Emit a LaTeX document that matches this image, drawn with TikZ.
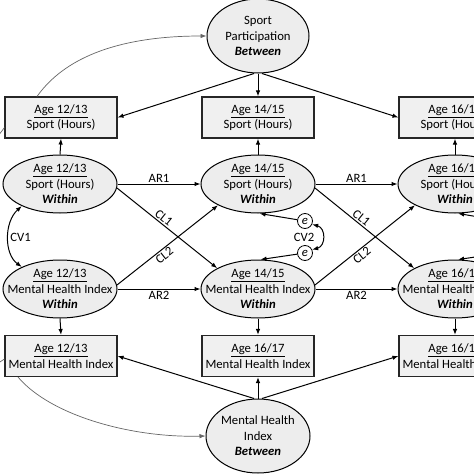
\documentclass[tikz,border=0pt]{standalone}
\usepackage{fontspec}
\setmainfont{Carlito}
\usetikzlibrary{shapes.geometric,arrows.meta,calc}
\begin{document}
\begin{tikzpicture}[x=1pt,y=-1pt,
  font=\fontsize{12.7}{15.5}\selectfont,
  obsbox/.style={draw=black!85,line width=1.1pt,fill=black!6,minimum width=112pt,minimum height=41pt,inner sep=0pt,align=center},
  latent/.style={ellipse,draw=black,line width=1pt,fill=black!7,minimum width=114pt,minimum height=58pt,inner sep=0pt},
  bigl/.style={ellipse,draw=black,line width=1pt,fill=black!7,minimum width=102pt,minimum height=74pt,inner sep=0pt},
  txt/.style={align=center,inner sep=0pt},
  arr/.style={-{Latex[length=6pt,width=4.5pt]},line width=1pt},
  dblarr/.style={{Latex[length=6pt,width=4.5pt]}-{Latex[length=6pt,width=4.5pt]},line width=1pt},
  greycurve/.style={-{Latex[length=6pt,width=4.5pt]},draw=black!60,line width=0.7pt},
  greyline/.style={draw=black!60,line width=0.7pt},
  errc/.style={circle,draw,line width=0.8pt,fill=white,minimum size=15pt,inner sep=0pt},
  lab/.style={inner sep=1.5pt}]
\useasboundingbox (0,0) rectangle (474,474);
\fill[white] (0,0) rectangle (474,474);
\clip (0,0) rectangle (474,474);

% between factors
\node[bigl,label={[txt]center:{Sport\\Participation\\\textbf{\textit{Between}}}}] (sb) at (258,36) {};
\node[bigl,minimum width=104pt,label={[txt]center:{Mental Health\\Index\\\textbf{\textit{Between}}}}] (mb) at (258,436) {};

% observed sport
\node[obsbox] (b1s) at (61,117.5) {\underline{Age 12/13}\\Sport (Hours)};
\node[obsbox] (b2s) at (258,117.5) {\underline{Age 14/15}\\Sport (Hours)};
\node[obsbox] (b3s) at (455,117.5) {\underline{Age 16/17}\\Sport (Hours)};

% within sport
\node[latent,label={[txt]center:{\underline{Age 12/13}\\Sport (Hours)\\\textbf{\textit{Within}}}}] (sw1) at (60,184) {};
\node[latent,label={[txt]center:{\underline{Age 14/15}\\Sport (Hours)\\\textbf{\textit{Within}}}}] (sw2) at (258,184) {};
\node[latent,label={[txt]center:{\underline{Age 16/17}\\Sport (Hours)\\\textbf{\textit{Within}}}}] (sw3) at (455,184) {};

% within mental
\node[latent,label={[txt]center:{\underline{Age 12/13}\\Mental Health Index\\\textbf{\textit{Within}}}}] (mw1) at (60,289) {};
\node[latent,label={[txt]center:{\underline{Age 14/15}\\Mental Health Index\\\textbf{\textit{Within}}}}] (mw2) at (258,289) {};
\node[latent,label={[txt]center:{\underline{Age 16/17}\\Mental Health Index\\\textbf{\textit{Within}}}}] (mw3) at (455,289) {};

% observed mental
\node[obsbox] (b1m) at (61,356) {\underline{Age 12/13}\\Mental Health Index};
\node[obsbox] (b2m) at (258,356) {\underline{Age 16/17}\\Mental Health Index};
\node[obsbox] (b3m) at (455,356) {\underline{Age 16/17}\\Mental Health Index};

% error terms
\node[errc] (e1) at (305,221) {\textit{e}};
\node[errc] (e2) at (305,253) {\textit{e}};
\node[errc] (e3) at (502,221) {\textit{e}};
\node[errc] (e4) at (502,253) {\textit{e}};

% between -> observed
\draw[arr] ([xshift=-4pt]sb.south) -- (b1s.east);
\draw[arr] (sb.south) -- (b2s.north);
\draw[arr] ([xshift=4pt]sb.south) -- (b3s.west);
\draw[arr] ([xshift=-4pt]mb.north) -- (b1m.east);
\draw[arr] (mb.north) -- (b2m.south);
\draw[arr] ([xshift=4pt]mb.north) -- (b3m.west);

% within -> observed
\draw[arr] (sw1.north) -- (b1s.south);
\draw[arr] (sw2.north) -- (b2s.south);
\draw[arr] (sw3.north) -- (b3s.south);
\draw[arr] (mw1.south) -- (b1m.north);
\draw[arr] (mw2.south) -- (b2m.north);
\draw[arr] (mw3.south) -- (b3m.north);

% grey curves
\coordinate (g1) at ($(b1s.north)+(-24,0)$);
\coordinate (g2) at ($(b1m.south)+(-43,0)$);
\draw[greycurve] (g1) .. controls (70,50) and (135,36) .. (sb.west);
\draw[greycurve] (g2) .. controls (50,415) and (130,438) .. (mb.west);
\coordinate (s1) at (-6,139);
\coordinate (s2) at (-6,366);
\draw[greyline] (s1) .. controls (-1,135) .. ($(b1s.west)+(0,10)$);
\draw[greyline] (s2) .. controls (-1,363) .. ($(b1m.west)+(0,3)$);

% cross-lagged panel, col 1 -> col 2
\draw[arr] (sw1.east) -- node[above,lab]{AR1} (sw2.west);
\draw[arr] (mw1.east) -- node[below,lab]{AR2} (mw2.west);
\draw[arr] (sw1.-4) -- node[sloped,above,pos=.43,lab]{CL1} (mw2.153);
\draw[arr] (mw1.4) -- node[sloped,below,pos=.43,lab]{CL2} (sw2.208);
% col 2 -> col 3
\draw[arr] (sw2.east) -- node[above,lab]{AR1} (sw3.west);
\draw[arr] (mw2.east) -- node[below,lab]{AR2} (mw3.west);
\draw[arr] (sw2.-4) -- node[sloped,above,pos=.43,lab]{CL1} (mw3.153);
\draw[arr] (mw2.4) -- node[sloped,below,pos=.43,lab]{CL2} (sw3.208);

% covariances
\draw[dblarr] (sw1.210) .. controls (4,222) and (4,254) .. node[right,lab]{CV1} (mw1.150);
\draw[arr] (e1) -- (sw2.-87);
\draw[arr] (e2) -- (mw2.85);
\draw[dblarr] (e1.-25) .. controls (326,228) and (326,246) .. (e2.25);
\node[lab] (cv2) at (304,237) {CV2};
\draw[arr] (e3) -- (sw3.-84);
\draw[arr] (e4) -- (mw3.84);
\end{tikzpicture}
\end{document}
